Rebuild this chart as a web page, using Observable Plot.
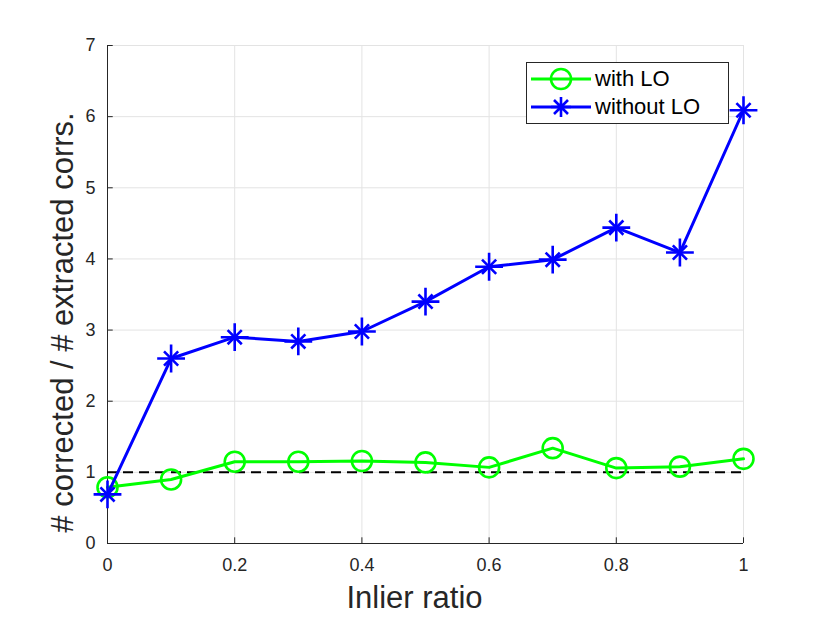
<!DOCTYPE html>
<html>
<head>
<meta charset="utf-8">
<script src="https://cdn.jsdelivr.net/npm/d3@7"></script>
<script src="https://cdn.jsdelivr.net/npm/@observablehq/plot@0.6"></script>
<style>
  html, body { margin: 0; padding: 0; background: #fff; }
  #wrap { position: relative; width: 822px; height: 617px; font-family: "Liberation Sans", Arial, sans-serif; }
  #legend { position: absolute; left: 526px; top: 62px; width: 201px; height: 60px; border: 1px solid #262626; background: #fff; }
  #legend .row { position: absolute; left: 0; height: 24px; display: flex; align-items: center; }
  #legend svg { display: block; }
  #legend span { font-size: 22px; color: #000; margin-left: 4px; }
</style>
</head>
<body>
<div id="wrap"></div>
<script>
const inlierRatio = [0, 0.1, 0.2, 0.3, 0.4, 0.5, 0.6, 0.7, 0.8, 0.9, 1];
const withLO = [0.79, 0.90, 1.15, 1.15, 1.16, 1.14, 1.07, 1.34, 1.06, 1.08, 1.19];
const withoutLO = [0.69, 2.60, 2.90, 2.84, 2.98, 3.40, 3.89, 3.99, 4.44, 4.09, 6.09];
const xTicks = [0, 0.2, 0.4, 0.6, 0.8, 1];
const yTicks = [0, 1, 2, 3, 4, 5, 6, 7];
const seriesNames = ["with LO", "without LO"];
const colors = ["#00ff00", "#0000ff"];
const baseline = [1];

const green = inlierRatio.map((x, i) => ({x, y: withLO[i]}));
const blue = inlierRatio.map((x, i) => ({x, y: withoutLO[i]}));

const chart = Plot.plot({
  width: 822,
  height: 617,
  marginLeft: 107,
  marginRight: 79,
  marginTop: 45,
  marginBottom: 74,
  style: {fontFamily: "Liberation Sans, Arial, sans-serif", background: "#fff"},
  x: {domain: [0, 1]},
  y: {domain: [0, 7]},
  marks: [
    Plot.gridX(xTicks, {stroke: "#e3e3e3", strokeOpacity: 1}),
    Plot.gridY(yTicks, {stroke: "#e3e3e3", strokeOpacity: 1}),
    Plot.axisX(xTicks, {label: null, tickSize: 0, tickPadding: 15, fontSize: 18, color: "#262626", tickFormat: d => String(d)}),
    Plot.axisY(yTicks, {label: null, tickSize: 0, tickPadding: 12, fontSize: 18, color: "#262626", tickFormat: d => String(d)}),
    Plot.ruleX(xTicks, {x: d => d, y1: 0, y2: 0.08, stroke: "#262626"}),
    Plot.ruleY(yTicks, {y: d => d, x1: 0, x2: 0.009, stroke: "#262626"}),
    Plot.ruleX([0], {stroke: "#262626", strokeWidth: 1}),
    Plot.ruleY([0], {stroke: "#262626", strokeWidth: 1}),
    Plot.ruleY(baseline, {x1: 0, x2: 1, stroke: "#000", strokeWidth: 2, strokeDasharray: "10,6"}),
    Plot.line(green, {x: "x", y: "y", stroke: colors[0], strokeWidth: 3}),
    Plot.dot(green, {x: "x", y: "y", r: 10, stroke: colors[0], strokeWidth: 2.6, fill: "none"}),
    Plot.line(blue, {x: "x", y: "y", stroke: colors[1], strokeWidth: 3}),
    Plot.dot(blue, {x: "x", y: "y", symbol: "plus", r: 9, stroke: colors[1], strokeWidth: 2.6}),
    Plot.dot(blue, {x: "x", y: "y", symbol: "times", r: 6.5, stroke: colors[1], strokeWidth: 2.6}),
    Plot.text(["Inlier ratio"], {frameAnchor: "bottom", dy: 64, dx: -11, fontSize: 31, fill: "#262626", textAnchor: "middle"}),
    Plot.text(["# corrected / # extracted corrs."], {frameAnchor: "left", dx: -44, dy: 28, rotate: -90, fontSize: 31, fill: "#262626", textAnchor: "middle"})
  ]
});

const wrap = document.getElementById("wrap");
wrap.appendChild(chart);

// legend
const legend = document.createElement("div");
legend.id = "legend";
const symbolSvg = (i) => {
  const c = colors[i];
  let marker;
  if (i === 0) marker = `<circle cx="34" cy="12" r="10" fill="none" stroke="${c}" stroke-width="2.6"/>`;
  else marker = `<path d="M34,2V22M24,12H44M27,5L41,19M41,5L27,19" stroke="${c}" stroke-width="2.6" fill="none"/>`;
  return `<svg width="64" height="24"><line x1="4" x2="64" y1="12" y2="12" stroke="${c}" stroke-width="3"/>${marker}</svg>`;
};
seriesNames.forEach((name, i) => {
  const row = document.createElement("div");
  row.className = "row";
  row.style.top = (4 + i * 28) + "px";
  row.innerHTML = symbolSvg(i) + `<span>${name}</span>`;
  legend.appendChild(row);
});
wrap.appendChild(legend);
</script>
</body>
</html>
